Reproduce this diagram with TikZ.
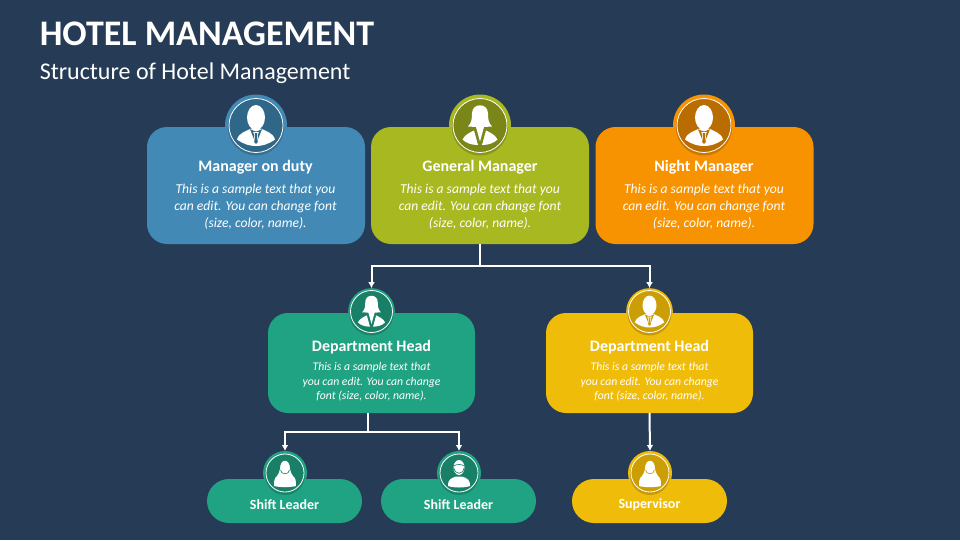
\documentclass[tikz,border=0pt]{standalone}
\usepackage{fontspec}
\setmainfont{Carlito}
\definecolor{bgc}{HTML}{263B56}
\definecolor{cblue}{HTML}{428AB5}\definecolor{dblue}{HTML}{2E6787}
\definecolor{cgreen}{HTML}{A8B820}\definecolor{dgreen}{HTML}{7A8618}
\definecolor{corange}{HTML}{F79200}\definecolor{dorange}{HTML}{B96D00}
\definecolor{cteal}{HTML}{1FA382}\definecolor{dteal}{HTML}{197F66}
\definecolor{cyell}{HTML}{F0BC0A}\definecolor{dyell}{HTML}{CC9E05}
\tikzset{
  x=0.75pt,y=-0.75pt,
  card/.style={rounded corners=15pt,minimum width=163.5pt,minimum height=87.75pt,inner sep=0pt,outer sep=0pt},
  dept/.style={rounded corners=15pt,minimum width=155.25pt,minimum height=75pt,inner sep=0pt,outer sep=0pt},
  pill/.style={rounded corners=16.5pt,minimum width=116.25pt,minimum height=33pt,inner sep=0pt,outer sep=0pt},
  halo/.style={circle,inner sep=0pt,outer sep=0pt},
  bighalo/.style={halo,minimum size=46.5pt},
  midhalo/.style={halo,minimum size=35pt},
  smallhalo/.style={halo,minimum size=33pt},
  ttl/.style={text=white,font=\fontsize{12}{14}\selectfont\bfseries,inner sep=0pt},
  ttlsmall/.style={text=white,font=\fontsize{10.5}{12}\selectfont\bfseries,inner sep=0pt},
  bodyA/.style={text=white,align=center,inner sep=0pt,font=\fontsize{10.2}{12.75}\selectfont\itshape},
  bodyB/.style={text=white,align=center,inner sep=0pt,font=\fontsize{8.8}{11}\selectfont\itshape},
  link/.style={draw=white,line width=1.5pt,-{Latex[length=4.5pt,width=5pt]}},
  stem/.style={draw=white,line width=1.5pt},
}
\usetikzlibrary{arrows.meta}
% #1 cx, #2 cy, #3 inner radius in px, #4 dark colour
\newcommand{\disc}[4]{%
  \fill[black,opacity=.18] (#1,#2+2) circle[radius=#3+1];
  \fill[#4] (#1,#2) circle[radius=#3];
  \draw[white,line width=.6pt] (#1,#2) circle[radius=#3];
}
\newcommand{\manicon}[4]{%
  \begin{scope}[shift={(#1,#2)},scale=#3/27]
    \fill[white] (0,-8) ellipse[x radius=9,y radius=12.5];
    \fill[white] (-19,14) .. controls (-17,7) and (-10,6) .. (-5,3) -- (5,3)
       .. controls (10,6) and (17,7) .. (19,14) .. controls (12,19) and (6,20.5) .. (0,20.5)
       .. controls (-6,20.5) and (-12,19) .. (-19,14) -- cycle;
    \fill[#4] (-6,3.5) -- (0,19) -- (6,3.5) -- (3,5) -- (0,6) -- (-3,5) -- cycle;
    \fill[white] (-2.8,6.6) -- (2.8,6.6) -- (1.6,10) -- (3,17) -- (0,20) -- (-3,17) -- (-1.6,10) -- cycle;
    \fill[#4] (-1.3,7.5) -- (1.3,7.5) -- (.9,10) -- (1.8,16.5) -- (0,18.5) -- (-1.8,16.5) -- (-.9,10) -- cycle;
  \end{scope}}
\newcommand{\womanicon}[4]{%
  \begin{scope}[shift={(#1,#2)},scale=#3/27]
    \fill[white] (-8,-12) .. controls (-8,-23) and (8,-23) .. (8,-12)
       .. controls (8,-6) and (8.5,-3) .. (12,1) -- (4,1.5) -- (0,16) -- (-4,1.5) -- (-12,1)
       .. controls (-8.5,-3) and (-8,-6) .. (-8,-12) -- cycle;
    \fill[white] (-17.5,14) .. controls (-15,9) and (-10,7) .. (-6,5) -- (-2,19.5)
       .. controls (-9,19.5) and (-14,17.5) .. (-17.5,14) -- cycle;
    \fill[white] (17.5,14) .. controls (15,9) and (10,7) .. (6,5) -- (2,19.5)
       .. controls (9,19.5) and (14,17.5) .. (17.5,14) -- cycle;
  \end{scope}}
\newcommand{\shiftwoman}[4]{%
  \begin{scope}[shift={(#1,#2)},scale=#3/19]
    \fill[white] (-5,-4) .. controls (-5,-15) and (5,-15) .. (5,-4) .. controls (5,-1) and (7,1) .. (8,3)
       .. controls (11,5) and (11,9) .. (11,13) .. controls (5,14.5) and (-5,14.5) .. (-11,13)
       .. controls (-11,9) and (-11,5) .. (-8,3) .. controls (-7,1) and (-5,-1) .. (-5,-4) -- cycle;
    \draw[#4,line width=.5pt] (-4.5,-3) .. controls (-4,2) and (4,2) .. (4.5,-3);
  \end{scope}}
\newcommand{\shiftman}[4]{%
  \begin{scope}[shift={(#1,#2)},scale=#3/19]
    \fill[white] (0,-5.5) ellipse[x radius=5.5,y radius=7.5];
    \fill[white] (-11,13) .. controls (-11.5,7) and (-8,5) .. (-3,3.5) -- (3,3.5)
       .. controls (8,5) and (11.5,7) .. (11,13) .. controls (5,15) and (-5,15) .. (-11,13) -- cycle;
    \draw[#4,line width=.5pt] (-5,-7) .. controls (-4,-9) and (4,-9) .. (5,-7) (-5,-5) .. controls (-4,2) and (4,2) .. (5,-5);
  \end{scope}}
\begin{document}
\begin{tikzpicture}
\useasboundingbox (0,0) rectangle (960,540);
\fill[bgc] (0,0) rectangle (960,540);
\node[anchor=west,text=white,inner sep=0pt,font=\fontsize{27}{30}\selectfont\bfseries] (title) at (39.5,34) {HOTEL MANAGEMENT};
\node[anchor=west,text=white,inner sep=0pt,font=\fontsize{18}{21}\selectfont] (subtitle) at (39.5,73) {Structure of Hotel Management};
% cards
\node[card,fill=cblue] (m1) at (256,185.5) {};
\node[card,fill=cgreen] (m2) at (480,185.5) {};
\node[card,fill=corange] (m3) at (704.5,185.5) {};
\node[dept,fill=cteal] (d1) at (371.5,363) {};
\node[dept,fill=cyell] (d2) at (649.5,363) {};
\node[pill,fill=cteal] (s1) at (284.5,501) {};
\node[pill,fill=cteal] (s2) at (458.5,501) {};
\node[pill,fill=cyell] (s3) at (649.5,501) {};
% halos
\node[bighalo,fill=cblue] (h1) at (256,125.5) {};
\node[bighalo,fill=cgreen] (h2) at (480,125.5) {};
\node[bighalo,fill=corange] (h3) at (704,125.5) {};
\node[midhalo,fill=cteal] (h4) at (371.5,311.5) {};
\node[midhalo,fill=cyell] (h5) at (649.5,311.5) {};
\node[smallhalo,fill=cteal] (h6) at (285,473) {};
\node[smallhalo,fill=cteal] (h7) at (459,473) {};
\node[smallhalo,fill=cyell] (h8) at (650,473) {};
% connectors
\coordinate (j1) at (480,266);
\coordinate (j2) at (368,432);
\coordinate (j2top) at (368,413);
\draw[stem] (m2.south) -- (j1);
\draw[link] (j1) -| (h4.north);
\draw[link] (j1) -| (h5.north);
\draw[stem] (j2top) -- (j2);
\draw[link] (j2) -| (h6.north);
\draw[link] (j2) -| (h7.north);
\draw[link] (d2.south) -- (h8.north);
% discs and icons
\disc{256}{125.5}{27}{dblue}\manicon{256}{125.5}{27}{dblue}
\disc{480}{125.5}{27}{dgreen}\womanicon{480}{125.5}{27}{dgreen}
\disc{704}{125.5}{27}{dorange}\manicon{704}{125.5}{27}{dorange}
\disc{371.5}{311.5}{21}{dteal}\womanicon{371.5}{311.5}{21}{dteal}
\disc{649.5}{311.5}{21}{dyell}\manicon{649.5}{311.5}{21}{dyell}
\disc{285}{473}{19}{dteal}\shiftwoman{285}{473}{19}{dteal}
\disc{459}{473}{19}{dteal}\shiftman{459}{473}{19}{dteal}
\disc{650}{473}{19}{dyell}\shiftwoman{650}{473}{19}{dyell}
% texts
\node[ttl] (t1) at (255.5,167) {Manager on duty};
\node[ttl] (t2) at (480,167) {General Manager};
\node[ttl] (t3) at (704,167) {Night Manager};
\node[bodyA] (b1) at (255.5,206.5) {This is a sample text that you\\can edit. You can change font\\(size, color, name).};
\node[bodyA] (b2) at (480,206.5) {This is a sample text that you\\can edit. You can change font\\(size, color, name).};
\node[bodyA] (b3) at (704,206.5) {This is a sample text that you\\can edit. You can change font\\(size, color, name).};
\node[ttl] (t4) at (371.5,347) {Department Head};
\node[ttl] (t5) at (649.5,347) {Department Head};
\node[bodyB] (b4) at (371.5,382) {This is a sample text that\\you can edit. You can change\\font (size, color, name).};
\node[bodyB] (b5) at (649.5,382) {This is a sample text that\\you can edit. You can change\\font (size, color, name).};
\node[ttlsmall] (t6) at (284.5,504.5) {Shift Leader};
\node[ttlsmall] (t7) at (458.5,504.5) {Shift Leader};
\node[ttlsmall] (t8) at (649.5,504.5) {Supervisor};
\end{tikzpicture}
\end{document}
